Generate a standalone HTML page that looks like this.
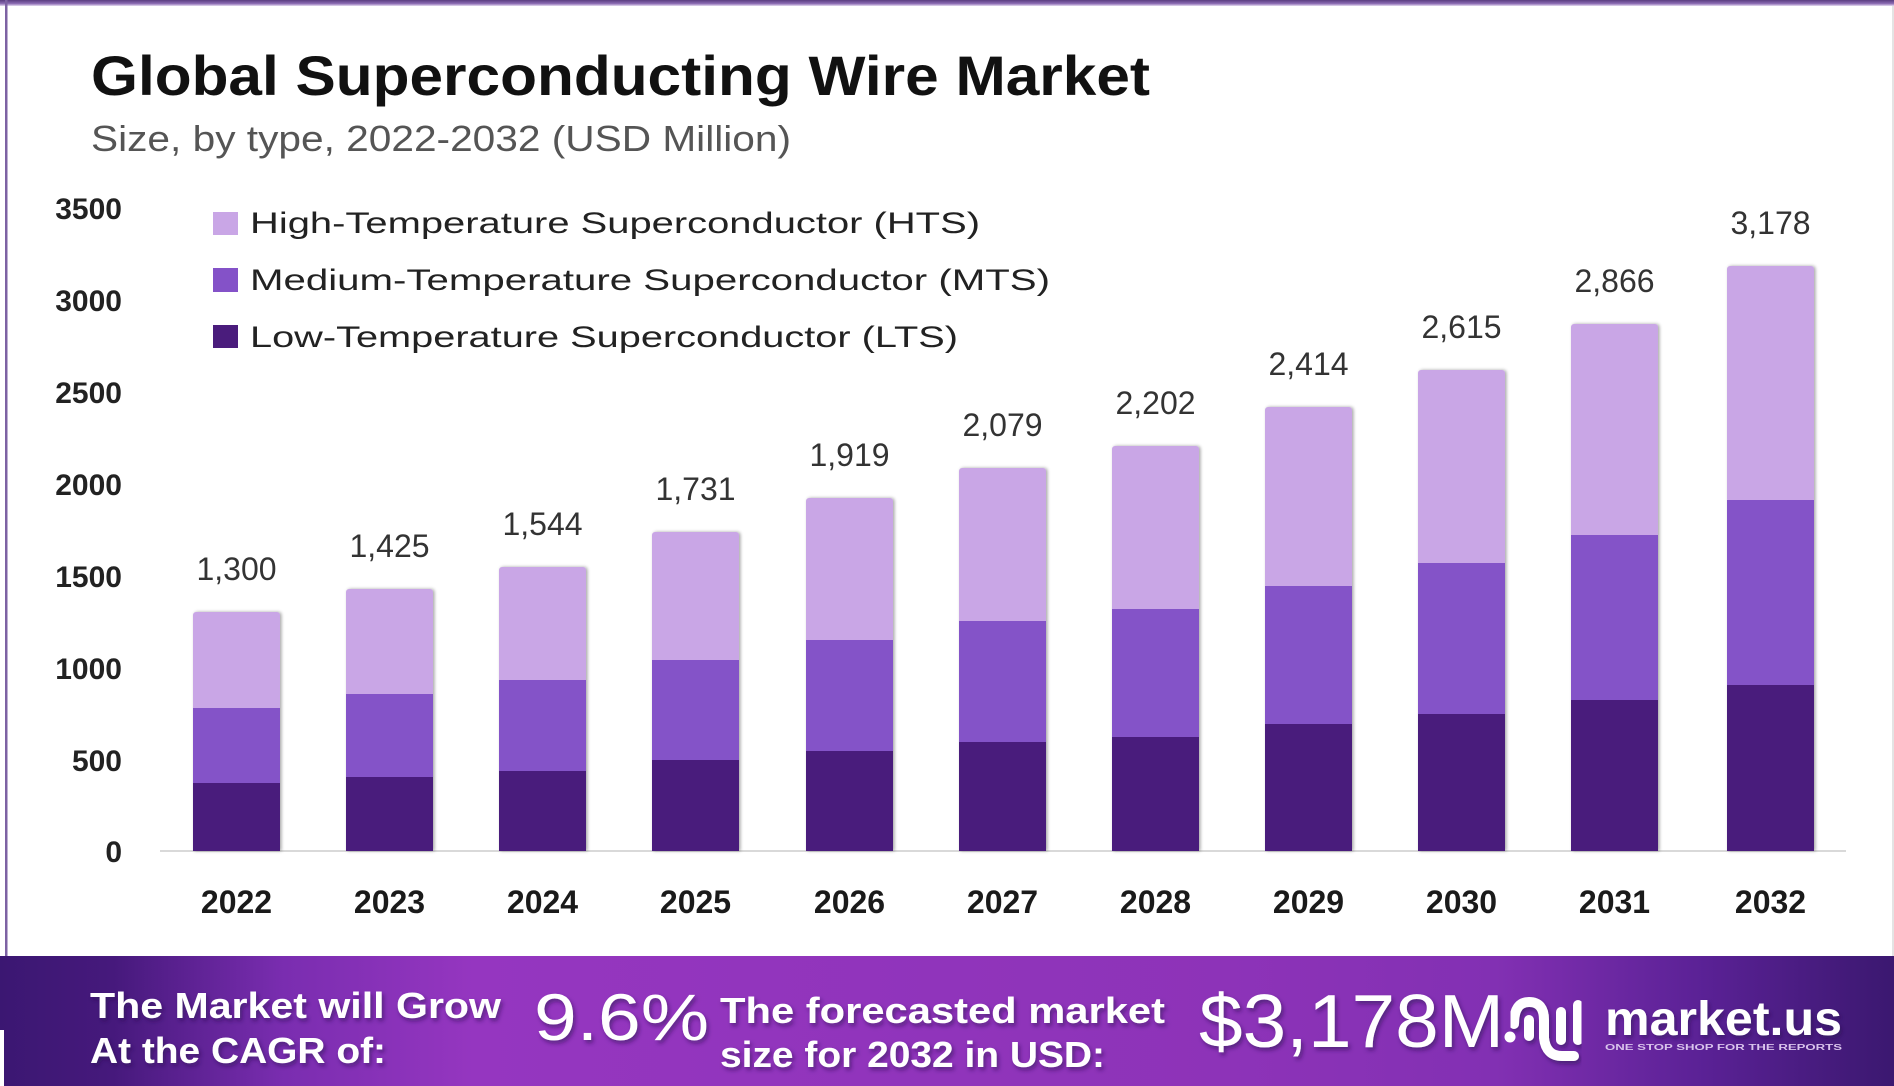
<!DOCTYPE html>
<html>
<head>
<meta charset="utf-8">
<style>
  html, body { margin: 0; padding: 0; background: #ffffff; }
  body { width: 1894px; height: 1086px; overflow: hidden; }
  svg { display: block; }
  text { font-family: "Liberation Sans", "DejaVu Sans", sans-serif; }
</style>
</head>
<body>
<svg width="1894" height="1086" viewBox="0 0 1894 1086" xmlns="http://www.w3.org/2000/svg">
  <defs>
    <linearGradient id="ban" x1="0" y1="0" x2="1894" y2="0" gradientUnits="userSpaceOnUse">
      <stop offset="0" stop-color="#3b1772"/>
      <stop offset="0.06" stop-color="#46197c"/>
      <stop offset="0.15" stop-color="#7a2db0"/>
      <stop offset="0.25" stop-color="#9536c0"/>
      <stop offset="0.65" stop-color="#8d33b8"/>
      <stop offset="0.79" stop-color="#8230b3"/>
      <stop offset="0.90" stop-color="#5a2195"/>
      <stop offset="1" stop-color="#3b1870"/>
    </linearGradient>
    <linearGradient id="topb" x1="0" y1="0" x2="0" y2="6" gradientUnits="userSpaceOnUse">
      <stop offset="0" stop-color="#5a3c80"/>
      <stop offset="0.6" stop-color="#8b6bb3"/>
      <stop offset="1" stop-color="#e6dcf0"/>
    </linearGradient>
    <filter id="bsh" x="-10%" y="-5%" width="120%" height="110%">
      <feDropShadow dx="1.5" dy="0" stdDeviation="1.6" flood-color="#000" flood-opacity="0.35"/>
    </filter>
    <filter id="tsh" x="-5%" y="-20%" width="110%" height="150%">
      <feDropShadow dx="2" dy="3" stdDeviation="2" flood-color="#2a0a50" flood-opacity="0.55"/>
    </filter>
  </defs>

  <!-- frame -->
  <rect x="0" y="0" width="1894" height="6" fill="url(#topb)"/>
  <rect x="5" y="0" width="2.5" height="957" fill="#7d62a3"/>
  <rect x="1892" y="6" width="2" height="950" fill="#e4e4e4"/>

  <!-- title -->
  <text x="91" y="95" font-size="56" font-weight="bold" fill="#111" textLength="1059" lengthAdjust="spacingAndGlyphs">Global Superconducting Wire Market</text>
  <text x="91" y="151" font-size="36" fill="#555" textLength="700" lengthAdjust="spacingAndGlyphs">Size, by type, 2022-2032 (USD Million)</text>

  <!-- y axis labels -->
  <g font-size="30" font-weight="bold" fill="#222" text-anchor="end">
    <text x="122" y="219">3500</text>
    <text x="122" y="311">3000</text>
    <text x="122" y="403">2500</text>
    <text x="122" y="495">2000</text>
    <text x="122" y="587">1500</text>
    <text x="122" y="679">1000</text>
    <text x="122" y="771">500</text>
    <text x="122" y="862">0</text>
  </g>

  <!-- legend -->
  <rect x="213" y="212" width="25" height="23" fill="#c9a6e6"/>
  <rect x="213" y="268" width="25" height="24" fill="#8452c8"/>
  <rect x="213" y="325" width="25" height="23" fill="#4a1c7c"/>
  <g font-size="30" fill="#222">
    <text x="250" y="233" textLength="730" lengthAdjust="spacingAndGlyphs">High-Temperature Superconductor (HTS)</text>
    <text x="250" y="290" textLength="800" lengthAdjust="spacingAndGlyphs">Medium-Temperature Superconductor (MTS)</text>
    <text x="250" y="347" textLength="708" lengthAdjust="spacingAndGlyphs">Low-Temperature Superconductor (LTS)</text>
  </g>

  <!-- axis line -->
  <rect x="160" y="850" width="1686" height="2" fill="#d9d9d9"/>

  <!-- bars -->
  <g filter="url(#bsh)">
    <rect x="193" y="612" width="87" height="100" rx="3" fill="#c9a6e6"/>
    <rect x="193" y="708" width="87" height="75" fill="#8452c8"/>
    <rect x="193" y="783" width="87" height="68" fill="#4a1c7c"/>
    <rect x="346" y="589" width="87" height="108" rx="3" fill="#c9a6e6"/>
    <rect x="346" y="694" width="87" height="83" fill="#8452c8"/>
    <rect x="346" y="777" width="87" height="74" fill="#4a1c7c"/>
    <rect x="499" y="567" width="87" height="117" rx="3" fill="#c9a6e6"/>
    <rect x="499" y="680" width="87" height="91" fill="#8452c8"/>
    <rect x="499" y="771" width="87" height="80" fill="#4a1c7c"/>
    <rect x="652" y="532" width="87" height="131" rx="3" fill="#c9a6e6"/>
    <rect x="652" y="660" width="87" height="100" fill="#8452c8"/>
    <rect x="652" y="760" width="87" height="91" fill="#4a1c7c"/>
    <rect x="806" y="498" width="87" height="146" rx="3" fill="#c9a6e6"/>
    <rect x="806" y="640" width="87" height="111" fill="#8452c8"/>
    <rect x="806" y="751" width="87" height="100" fill="#4a1c7c"/>
    <rect x="959" y="468" width="87" height="156" rx="3" fill="#c9a6e6"/>
    <rect x="959" y="621" width="87" height="121" fill="#8452c8"/>
    <rect x="959" y="742" width="87" height="109" fill="#4a1c7c"/>
    <rect x="1112" y="446" width="87" height="166" rx="3" fill="#c9a6e6"/>
    <rect x="1112" y="609" width="87" height="128" fill="#8452c8"/>
    <rect x="1112" y="737" width="87" height="114" fill="#4a1c7c"/>
    <rect x="1265" y="407" width="87" height="181" rx="3" fill="#c9a6e6"/>
    <rect x="1265" y="586" width="87" height="138" fill="#8452c8"/>
    <rect x="1265" y="724" width="87" height="127" fill="#4a1c7c"/>
    <rect x="1418" y="370" width="87" height="196" rx="3" fill="#c9a6e6"/>
    <rect x="1418" y="563" width="87" height="151" fill="#8452c8"/>
    <rect x="1418" y="714" width="87" height="137" fill="#4a1c7c"/>
    <rect x="1571" y="324" width="87" height="214" rx="3" fill="#c9a6e6"/>
    <rect x="1571" y="535" width="87" height="165" fill="#8452c8"/>
    <rect x="1571" y="700" width="87" height="151" fill="#4a1c7c"/>
    <rect x="1727" y="266" width="87" height="236" rx="3" fill="#c9a6e6"/>
    <rect x="1727" y="500" width="87" height="185" fill="#8452c8"/>
    <rect x="1727" y="685" width="87" height="166" fill="#4a1c7c"/>
  </g>

  <!-- value labels -->
  <g font-size="32" fill="#333" text-anchor="middle">
    <text x="236.5" y="580">1,300</text>
    <text x="389.5" y="557">1,425</text>
    <text x="542.5" y="535">1,544</text>
    <text x="695.5" y="500">1,731</text>
    <text x="849.5" y="466">1,919</text>
    <text x="1002.5" y="436">2,079</text>
    <text x="1155.5" y="414">2,202</text>
    <text x="1308.5" y="375">2,414</text>
    <text x="1461.5" y="338">2,615</text>
    <text x="1614.5" y="292">2,866</text>
    <text x="1770.5" y="234">3,178</text>
  </g>

  <!-- x labels -->
  <g font-size="32" font-weight="bold" fill="#1a1a1a" text-anchor="middle">
    <text x="236.5" y="913">2022</text>
    <text x="389.5" y="913">2023</text>
    <text x="542.5" y="913">2024</text>
    <text x="695.5" y="913">2025</text>
    <text x="849.5" y="913">2026</text>
    <text x="1002.5" y="913">2027</text>
    <text x="1155.5" y="913">2028</text>
    <text x="1308.5" y="913">2029</text>
    <text x="1461.5" y="913">2030</text>
    <text x="1614.5" y="913">2031</text>
    <text x="1770.5" y="913">2032</text>
  </g>

  <!-- banner -->
  <rect x="0" y="956" width="1894" height="130" fill="url(#ban)"/>
  <rect x="0" y="1030" width="4" height="56" fill="#ffffff"/>

  <g fill="#ffffff" filter="url(#tsh)">
    <text x="90" y="1018" font-size="36" font-weight="bold" textLength="411" lengthAdjust="spacingAndGlyphs">The Market will Grow</text>
    <text x="90" y="1063" font-size="36" font-weight="bold" textLength="296" lengthAdjust="spacingAndGlyphs">At the CAGR of:</text>
    <text x="534" y="1040" font-size="66" textLength="175" lengthAdjust="spacingAndGlyphs">9.6%</text>
    <text x="720" y="1023" font-size="36" font-weight="bold" textLength="445" lengthAdjust="spacingAndGlyphs">The forecasted market</text>
    <text x="720" y="1067" font-size="36" font-weight="bold" textLength="385" lengthAdjust="spacingAndGlyphs">size for 2032 in USD:</text>
    <text x="1199" y="1047" font-size="75" textLength="305" lengthAdjust="spacingAndGlyphs">$3,178M</text>
    <text x="1605" y="1035" font-size="48" font-weight="bold" textLength="237" lengthAdjust="spacingAndGlyphs">market.us</text>
  </g>
  <text x="1605" y="1050" font-size="8" font-weight="bold" fill="#d9c4ec" textLength="237" lengthAdjust="spacingAndGlyphs">ONE STOP SHOP FOR THE REPORTS</text>

  <!-- logo icon -->
  <g stroke="#ffffff" stroke-width="10" stroke-linecap="round" fill="none" filter="url(#tsh)">
    <path d="M1514 1024 Q1514 1002 1529 1002 Q1544 1002 1544 1020 L1544 1038 Q1546 1056 1562 1056 L1574 1056"/>
    <path d="M1529 1020 L1529 1036"/>
    <path d="M1561 1012 L1561 1040"/>
    <path d="M1578 1005 L1578 1040"/>
  </g>
  <circle cx="1510" cy="1037" r="5.5" fill="#ffffff"/>
</svg>
</body>
</html>
